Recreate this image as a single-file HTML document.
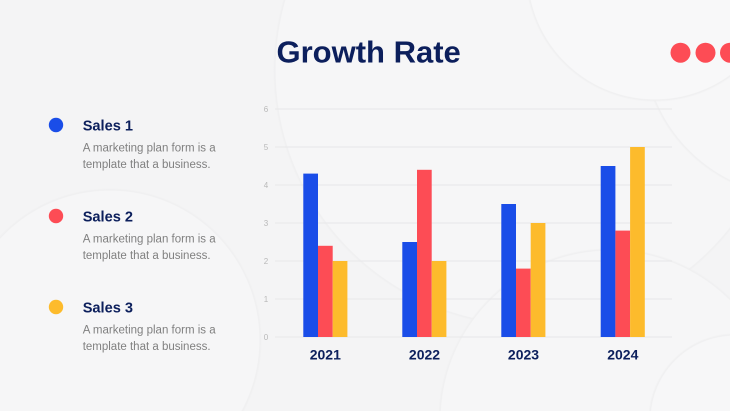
<!DOCTYPE html>
<html>
<head>
<meta charset="utf-8">
<style>
  html,body{margin:0;padding:0;width:730px;height:411px;overflow:hidden;}
  body{
    background-color:#f4f4f5;
    background-image:
      radial-gradient(circle 129px at 655px -28px, #f8f8f9 127px, #efeff0 128px, rgba(244,244,245,0) 130px),
      radial-gradient(circle 158px at 800px 40px, #f7f7f8 156px, #efeff0 157px, rgba(244,244,245,0) 159px),
      radial-gradient(circle 86px at 735px 420px, #f7f7f8 84px, #efeff0 85px, rgba(244,244,245,0) 87px),
      radial-gradient(circle 171px at 610px 420px, #f6f6f7 169px, #efeff0 170px, rgba(244,244,245,0) 172px),
      radial-gradient(circle 151px at 110px 340px, #f6f6f7 149px, #efeff0 150px, rgba(244,244,245,0) 152px),
      radial-gradient(circle 256px at 530px 70px, #f6f6f7 254px, #efeff0 255px, rgba(244,244,245,0) 257px);
    background-repeat:no-repeat;
  }
  svg{display:block;position:absolute;left:0;top:0;}
  text{font-family:"Liberation Sans", sans-serif;}
</style>
</head>
<body>
<svg width="730" height="411" viewBox="0 0 730 411" xmlns="http://www.w3.org/2000/svg">
  <!-- title -->
  <text x="276.5" y="62.3" font-size="31" font-weight="bold" fill="#0c1f5c">Growth Rate</text>
  <circle cx="680.5" cy="52.7" r="10" fill="#fd4c55"/>
  <circle cx="705.5" cy="52.7" r="10" fill="#fd4c55"/>
  <path d="M730 42.7 A10 10 0 0 0 730 62.7 Z" fill="#fd4c55"/>

  <!-- legend -->
  <circle cx="56" cy="125" r="7.2" fill="#1a4de8"/>
  <text x="82.7" y="130.3" font-size="14.6" font-weight="bold" fill="#0c1f5c">Sales 1</text>
  <text x="82.7" y="151.5" font-size="11.5" fill="#808080">A marketing plan form is a</text>
  <text x="82.7" y="168" font-size="11.5" fill="#808080">template that a business.</text>

  <circle cx="56" cy="216" r="7.2" fill="#fd4c55"/>
  <text x="82.7" y="221.3" font-size="14.6" font-weight="bold" fill="#0c1f5c">Sales 2</text>
  <text x="82.7" y="242.5" font-size="11.5" fill="#808080">A marketing plan form is a</text>
  <text x="82.7" y="259" font-size="11.5" fill="#808080">template that a business.</text>

  <circle cx="56" cy="307" r="7.2" fill="#fdbb2c"/>
  <text x="82.7" y="312.3" font-size="14.6" font-weight="bold" fill="#0c1f5c">Sales 3</text>
  <text x="82.7" y="333.5" font-size="11.5" fill="#808080">A marketing plan form is a</text>
  <text x="82.7" y="350" font-size="11.5" fill="#808080">template that a business.</text>

  <!-- grid -->
  <g stroke="#e7e7e9" stroke-width="1">
    <line x1="275" y1="109" x2="672" y2="109"/>
    <line x1="275" y1="147" x2="672" y2="147"/>
    <line x1="275" y1="185" x2="672" y2="185"/>
    <line x1="275" y1="223" x2="672" y2="223"/>
    <line x1="275" y1="261" x2="672" y2="261"/>
    <line x1="275" y1="299" x2="672" y2="299"/>
    <line x1="275" y1="337" x2="672" y2="337"/>
  </g>
  <g font-size="8" fill="#b8b8b8" text-anchor="middle">
    <text x="266" y="112">6</text>
    <text x="266" y="150">5</text>
    <text x="266" y="188">4</text>
    <text x="266" y="226">3</text>
    <text x="266" y="264">2</text>
    <text x="266" y="302">1</text>
    <text x="266" y="340">0</text>
  </g>

  <!-- bars: y0=337, 38px per unit -->
  <rect x="303.3" y="173.6" width="14.7" height="163.4" fill="#1a4de8"/>
  <rect x="318" y="245.8" width="14.7" height="91.2" fill="#fd4c55"/>
  <rect x="332.7" y="261" width="14.7" height="76" fill="#fdbb2c"/>

  <rect x="402.3" y="242" width="14.7" height="95" fill="#1a4de8"/>
  <rect x="417" y="169.8" width="14.7" height="167.2" fill="#fd4c55"/>
  <rect x="431.7" y="261" width="14.7" height="76" fill="#fdbb2c"/>

  <rect x="501.3" y="204" width="14.7" height="133" fill="#1a4de8"/>
  <rect x="516" y="268.6" width="14.7" height="68.4" fill="#fd4c55"/>
  <rect x="530.7" y="223" width="14.7" height="114" fill="#fdbb2c"/>

  <rect x="600.7" y="166" width="14.7" height="171" fill="#1a4de8"/>
  <rect x="615.4" y="230.6" width="14.7" height="106.4" fill="#fd4c55"/>
  <rect x="630.1" y="147" width="14.7" height="190" fill="#fdbb2c"/>

  <!-- year labels -->
  <g font-size="14" font-weight="bold" fill="#0c1f5c" text-anchor="middle">
    <text x="325.3" y="359.3">2021</text>
    <text x="424.5" y="359.3">2022</text>
    <text x="523.5" y="359.3">2023</text>
    <text x="622.8" y="359.3">2024</text>
  </g>
</svg>
</body>
</html>
